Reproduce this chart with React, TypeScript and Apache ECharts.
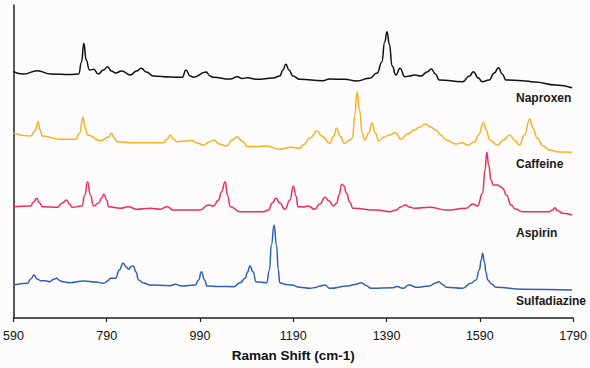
import React, { useEffect, useRef } from "react";
import * as echarts from "echarts";

// Raman shift (cm-1) and stacked intensity (arbitrary units, offset per compound)
const naproxen: [number, number][] = [
  [590, 246.3], [612, 244], [641, 247.3], [670, 244], [712, 243.5], [730, 244], [736, 256], [741, 274.7],
  [746, 258], [753, 248], [762, 248.7], [772, 244], [783, 248], [792, 251.3], [800, 247], [809, 245],
  [822, 247], [841, 243], [854, 247], [864, 249.7], [875, 246], [890, 242], [926, 241], [952, 240.7],
  [960, 248], [969, 242], [976, 240.7], [1003, 246], [1012, 242], [1018, 240.7], [1055, 239], [1070, 241.3],
  [1080, 239.5], [1091, 240.3], [1112, 238.7], [1147, 240], [1161, 242], [1168, 248], [1174, 253.7],
  [1181, 248], [1189, 242], [1204, 238.7], [1253, 237.3], [1268, 239], [1300, 238.7], [1326, 237],
  [1354, 239.7], [1370, 245], [1380, 256], [1386, 276], [1391, 286.3], [1396, 274], [1402, 252],
  [1410, 243], [1419, 249.7], [1429, 241.3], [1439, 242], [1450, 243], [1464, 242], [1477, 246],
  [1486, 249], [1495, 244], [1503, 238], [1553, 236.3], [1568, 242], [1576, 246.3], [1587, 240],
  [1595, 236.3], [1610, 238], [1621, 245], [1630, 250.3], [1638, 244], [1646, 238], [1681, 237.3],
  [1707, 236], [1753, 233], [1788, 230.3],
];

const caffeine: [number, number][] = [
  [590, 184.7], [627, 182], [636, 187], [643, 196.3], [647, 188], [652, 182], [691, 178.7], [723, 178.7],
  [732, 185], [739, 200.7], [744, 190], [749, 183], [777, 177.3], [794, 181], [800, 184.7], [806, 180],
  [812, 176.3], [847, 175.3], [911, 175.3], [920, 179], [926, 183], [933, 179], [941, 176.3], [960, 177],
  [973, 177.5], [984, 175], [997, 173], [1012, 176.5], [1020, 178], [1031, 174], [1047, 172], [1059, 178],
  [1070, 181.3], [1080, 177], [1093, 171.3], [1114, 171.5], [1133, 172], [1161, 168.7], [1186, 170.7],
  [1204, 169.7], [1211, 173], [1226, 180], [1241, 187], [1251, 182], [1268, 174.7], [1277, 182],
  [1283, 189.7], [1290, 182], [1300, 174.7], [1311, 178], [1317, 180], [1322, 203], [1327, 226.3],
  [1332, 208], [1338, 185], [1343, 178], [1352, 185], [1359, 194.7], [1366, 185], [1373, 177.3],
  [1385, 181], [1396, 183], [1409, 185.3], [1421, 178.7], [1435, 184], [1450, 188], [1461, 191],
  [1474, 194], [1484, 191], [1496, 188], [1506, 183], [1518, 178], [1539, 174], [1552, 175.3],
  [1564, 173], [1579, 176], [1587, 183], [1598, 195.3], [1604, 188], [1611, 178], [1628, 173],
  [1641, 178], [1654, 183], [1664, 178], [1675, 173], [1686, 183], [1697, 199], [1704, 190],
  [1713, 179.7], [1726, 172], [1739, 168], [1760, 166], [1788, 165.7],
];

const aspirin: [number, number][] = [
  [590, 111.3], [627, 112], [633, 116], [640, 119.7], [646, 115], [652, 111.3], [684, 110.7], [695, 115],
  [704, 118], [710, 114], [716, 110.7], [737, 112], [743, 123], [749, 136.3], [755, 123], [762, 112],
  [773, 115], [779, 120], [784, 123.7], [790, 118], [794, 111.3], [819, 109.7], [836, 111.3], [855, 108.7],
  [883, 109.7], [905, 108.7], [919, 111.3], [933, 108], [990, 108], [1008, 113], [1019, 112], [1030, 118],
  [1036, 126], [1044, 136.3], [1049, 123], [1055, 111.3], [1076, 106.3], [1126, 106.3], [1137, 108],
  [1145, 115], [1153, 119.7], [1161, 115], [1172, 108.7], [1183, 118], [1190, 132], [1196, 122],
  [1200, 111.3], [1211, 111], [1222, 112], [1236, 108.7], [1247, 114], [1258, 120.7], [1267, 117],
  [1276, 112], [1283, 114.7], [1288, 123], [1294, 133.7], [1299, 132], [1304, 124.7], [1311, 116],
  [1318, 109.7], [1368, 108], [1397, 106.3], [1411, 108], [1420, 111], [1431, 113], [1439, 111],
  [1450, 109.7], [1482, 110.7], [1518, 108], [1561, 109.7], [1575, 114], [1585, 112], [1596, 124.7],
  [1601, 148], [1605, 165.7], [1609, 153], [1614, 138], [1619, 133], [1628, 133], [1634, 131.5],
  [1639, 129.7], [1647, 123], [1657, 113], [1666, 109], [1682, 106.3], [1739, 106.3], [1746, 108],
  [1751, 110.3], [1756, 107.5], [1768, 104.7], [1788, 103],
];

const sulfadiazine: [number, number][] = [
  [590, 33], [620, 34.7], [627, 39], [634, 43], [641, 39], [648, 37.3], [659, 37.3], [668, 36.3],
  [675, 38.5], [683, 39.7], [689, 37.5], [695, 36.3], [712, 35.3], [741, 37], [766, 36], [784, 34.7],
  [792, 37], [798, 39.7], [809, 39.7], [817, 48], [825, 54.7], [832, 51], [837, 48.7], [842, 51.5],
  [847, 52], [853, 46], [858, 38], [869, 35], [883, 33], [926, 32.3], [937, 33.7], [951, 32], [980, 33],
  [987, 38], [993, 46.3], [1000, 38], [1005, 32], [1033, 31.5], [1062, 31.3], [1076, 35.3], [1087, 39.7],
  [1092, 46], [1097, 52], [1104, 46], [1110, 36.3], [1133, 35.3], [1139, 48], [1143, 73], [1149, 93],
  [1154, 73], [1158, 48], [1161, 35.3], [1174, 33.5], [1186, 33], [1204, 30.7], [1226, 29.7],
  [1238, 30.5], [1247, 32], [1258, 33], [1268, 29.7], [1307, 32], [1322, 33.5], [1336, 35.3],
  [1346, 32.5], [1357, 29.7], [1404, 30.3], [1412, 31.5], [1425, 29.7], [1438, 33], [1454, 30.7],
  [1482, 32], [1495, 35], [1502, 36.3], [1510, 33.5], [1518, 30.7], [1553, 29.7], [1571, 34.7],
  [1582, 38], [1589, 48], [1593, 58], [1596, 64.7], [1600, 56], [1603, 46], [1607, 38], [1615, 34],
  [1625, 30.7], [1682, 28.7], [1788, 28],
];

const seriesNames = ["Naproxen", "Caffeine", "Aspirin", "Sulfadiazine"];
const seriesColors = ["#111111", "#f0b324", "#e8305a", "#2e62b4"];
const seriesData = [naproxen, caffeine, aspirin, sulfadiazine];
const labelTops = [92, 158, 227, 295];

export default function App() {
  const ref = useRef<HTMLDivElement>(null);
  useEffect(() => {
    if (!ref.current) return;
    const chart = echarts.init(ref.current, null, { renderer: "svg" });
    chart.setOption({
      animation: false,
      backgroundColor: "#fdfbfb",
      textStyle: { fontFamily: "Liberation Sans, Arial, sans-serif" },
      grid: { left: 13, right: 16, top: 5, bottom: 50 },
      xAxis: {
        type: "value",
        min: 590,
        max: 1790,
        interval: 200,
        name: "Raman Shift (cm-1)",
        nameLocation: "middle",
        nameGap: 30,
        nameTextStyle: { fontSize: 13.5, fontWeight: "bold", color: "#111" },
        axisLine: { lineStyle: { color: "#222", width: 1.5 } },
        axisTick: { show: true, length: 4, lineStyle: { color: "#222", width: 1.2 } },
        axisLabel: { fontSize: 12.5, color: "#111", margin: 11, formatter: (v: number) => String(v) },
        splitLine: { show: false },
      },
      yAxis: {
        type: "value",
        min: 0,
        max: 313,
        axisLine: { show: true, lineStyle: { color: "#222", width: 1.5 } },
        axisTick: { show: false },
        axisLabel: { show: false },
        splitLine: { show: false },
      },
      graphic: seriesNames.map((n, i) => ({
        type: "text",
        left: 516,
        top: labelTops[i],
        silent: true,
        style: {
          text: n,
          fontSize: 12,
          fontWeight: "bold",
          fill: "#1a1a1a",
          fontFamily: "Liberation Sans, Arial, sans-serif",
        },
      })),
      series: seriesData.map((d, i) => ({
        name: seriesNames[i],
        type: "line",
        data: d,
        showSymbol: false,
        smooth: 0.5,
        smoothMonotone: "x",
        lineStyle: { color: seriesColors[i], width: 1.5 },
        itemStyle: { color: seriesColors[i] },
      })),
    });
    return () => chart.dispose();
  }, []);
  return (
    <div
      ref={ref}
      style={{ position: "fixed", left: 0, top: 0, width: 590, height: 368 }}
    />
  );
}
